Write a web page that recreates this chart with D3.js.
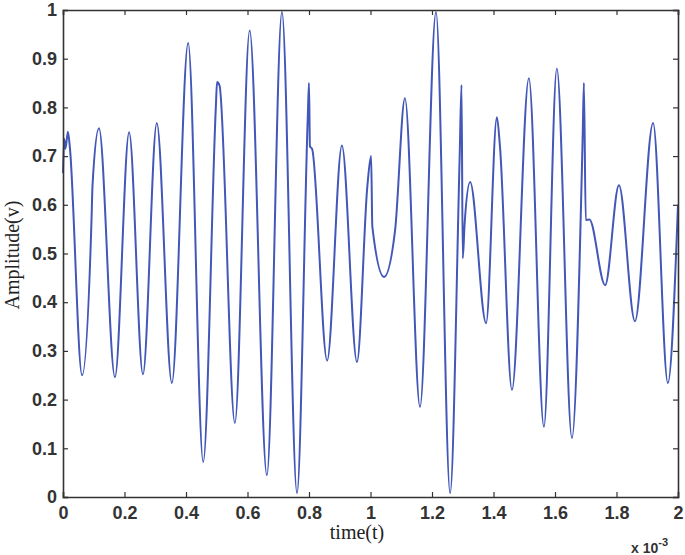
<!DOCTYPE html>
<html>
<head>
<meta charset="utf-8">
<script src="https://cdn.jsdelivr.net/npm/d3@7"></script>
<style>
  body { margin: 0; background: #fff; }
  .tick text { font-family: "Liberation Sans", Arial, sans-serif; font-weight: bold; font-size: 18px; fill: #333; }
</style>
</head>
<body>
<div id="chart"></div>
<script>
// time in ms (x 10^-3 s): peaks, troughs and shoulders
var timeMs = [0.000, 0.004, 0.008, 0.016, 0.022, 0.062, 0.093, 0.096, 0.117, 0.169,
  0.215, 0.260, 0.305, 0.354, 0.407, 0.456, 0.497, 0.501, 0.509, 0.559,
  0.607, 0.663, 0.712, 0.761, 0.796, 0.800, 0.803, 0.810, 0.859, 0.907,
  0.956, 0.990, 1.002, 1.006, 1.044, 1.080, 1.112, 1.161, 1.213, 1.259,
  1.290, 1.296, 1.300, 1.306, 1.324, 1.376, 1.411, 1.421, 1.460, 1.515,
  1.564, 1.606, 1.655, 1.690, 1.694, 1.700, 1.712, 1.763, 1.808, 1.860,
  1.919, 1.967, 2.000]
var amplitude = [0.665, 0.735, 0.715, 0.750, 0.720, 0.250, 0.575, 0.640, 0.757, 0.246,
  0.749, 0.252, 0.768, 0.234, 0.932, 0.072, 0.800, 0.852, 0.845, 0.152,
  0.958, 0.045, 0.996, 0.008, 0.780, 0.850, 0.720, 0.715, 0.280, 0.722,
  0.277, 0.640, 0.700, 0.555, 0.452, 0.548, 0.819, 0.185, 0.996, 0.008,
  0.700, 0.846, 0.490, 0.560, 0.647, 0.357, 0.780, 0.720, 0.220, 0.860,
  0.144, 0.880, 0.121, 0.740, 0.850, 0.569, 0.570, 0.435, 0.640, 0.361,
  0.768, 0.234, 0.600]
var xTicks = [0, 0.2, 0.4, 0.6, 0.8, 1, 1.2, 1.4, 1.6, 1.8, 2]
var yTicks = [0, 0.1, 0.2, 0.3, 0.4, 0.5, 0.6, 0.7, 0.8, 0.9, 1]

var width = 685, height = 555
var plotLeft = 63, plotRight = 678, plotTop = 10, plotBottom = 497

var svg = d3.select("#chart").append("svg")
svg.attr("width", width).attr("height", height)

var x = d3.scaleLinear().domain([0, 2]).range([plotLeft, plotRight])
var y = d3.scaleLinear().domain([0, 1]).range([plotBottom, plotTop])

var points = timeMs.map(function(t, i) { return [t, amplitude[i]] })

var line = d3.line()
  .x(function(d) { return x(d[0]) })
  .y(function(d) { return y(d[1]) })
  .curve(d3.curveMonotoneX)

svg.append("path")
  .datum(points)
  .attr("d", line)
  .attr("fill", "none")
  .attr("stroke", "#4257b8")
  .attr("stroke-width", 2)
  .attr("stroke-linejoin", "round")

// axes, ticks pointing inward on all four sides
var axisColor = "#333"
function styleAxis(g) {
  g.select(".domain").attr("stroke", axisColor).attr("stroke-width", 1.6)
  g.selectAll(".tick line").attr("stroke", axisColor).attr("stroke-width", 1.2)
}

svg.append("g")
  .attr("transform", "translate(0," + plotBottom + ")")
  .call(d3.axisBottom(x).tickValues(xTicks).tickSize(-5).tickPadding(9).tickFormat(d3.format("")))
  .call(styleAxis)

svg.append("g")
  .attr("transform", "translate(0," + plotTop + ")")
  .call(d3.axisTop(x).tickValues(xTicks).tickSize(-5).tickFormat(""))
  .call(styleAxis)

svg.append("g")
  .attr("transform", "translate(" + plotLeft + ",0)")
  .call(d3.axisLeft(y).tickValues(yTicks).tickSize(-5).tickPadding(6).tickFormat(d3.format("")))
  .call(styleAxis)

svg.append("g")
  .attr("transform", "translate(" + plotRight + ",0)")
  .call(d3.axisRight(y).tickValues(yTicks).tickSize(-5).tickFormat(""))
  .call(styleAxis)

// labels
svg.append("text")
  .text("time(t)")
  .attr("x", 357)
  .attr("y", 539)
  .attr("text-anchor", "middle")
  .attr("font-family", "Liberation Serif, Times New Roman, serif")
  .attr("font-size", 20)
  .attr("fill", "#222")

svg.append("text")
  .text("Amplitude(v)")
  .attr("transform", "translate(19,255) rotate(-90)")
  .attr("text-anchor", "middle")
  .attr("font-family", "Liberation Serif, Times New Roman, serif")
  .attr("font-size", 20)
  .attr("fill", "#222")

var expo = svg.append("text")
  .attr("x", 631)
  .attr("y", 553)
  .attr("font-family", "Liberation Sans, Arial, sans-serif")
  .attr("font-weight", "bold")
  .attr("font-size", 14)
  .attr("fill", "#333")
expo.append("tspan").text("x 10")
expo.append("tspan").text("-3").attr("dy", -7).attr("font-size", 11)
</script>
</body>
</html>
